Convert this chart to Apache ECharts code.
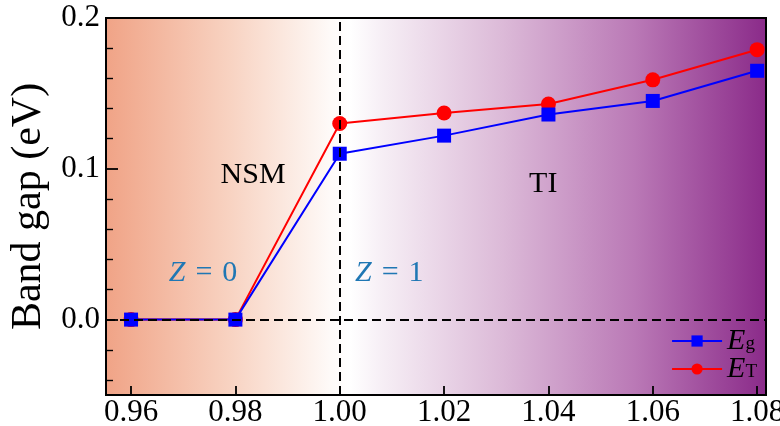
<!DOCTYPE html>
<html>
<head>
<meta charset="utf-8">
<script src="https://cdn.jsdelivr.net/npm/echarts@6/dist/echarts.min.js"></script>
<style>
  html, body { margin: 0; padding: 0; background: #fff; }
  #chart { width: 780px; height: 426px; }
</style>
</head>
<body>
<div id="chart"></div>
<script>
var chartDom = document.getElementById('chart');
var myChart = echarts.init(chartDom);

// data
var xValues = [0.96, 0.98, 1.00, 1.02, 1.04, 1.06, 1.08];
var egValues = [0, 0, 0.110, 0.122, 0.136, 0.145, 0.165];
var etValues = [0, 0, 0.130, 0.137, 0.143, 0.159, 0.179];
var xTicks = [0.96, 0.98, 1.00, 1.02, 1.04, 1.06, 1.08];
var yTicks = [0, 0.1, 0.2];
var yMinorTicks = [-0.04, -0.02, 0.02, 0.04, 0.06, 0.08, 0.12, 0.14, 0.16, 0.18];

var serif = 'Liberation Serif';
var xMin = 0.9552, xMax = 1.0817;
var yMin = -0.05, yMax = 0.2;

function pairs(ys) {
  return xValues.map(function (x, i) { return [x, ys[i]]; });
}

var axisLine = { show: true, onZero: false, lineStyle: { color: '#000', width: 2 } };

var option = {
  animation: false,
  textStyle: { fontFamily: serif },
  grid: {
    left: 106, right: 14, top: 18, bottom: 31,
    outerBoundsMode: 'none',
    containLabel: false,
    show: true,
    borderColor: '#000',
    borderWidth: 2,
    backgroundColor: {
      type: 'linear', x: 0, y: 0, x2: 1, y2: 0,
      colorStops: [
        { offset: 0, color: '#f0a386' },
        { offset: 0.19, color: '#f8d3c2' },
        { offset: 0.34, color: '#fefaf8' },
        { offset: 0.37, color: '#ffffff' },
        { offset: 0.42, color: '#f6eef5' },
        { offset: 0.6, color: '#dcbad8' },
        { offset: 0.8, color: '#ba79b6' },
        { offset: 1, color: '#8a2a89' }
      ]
    }
  },
  legend: {
    orient: 'vertical',
    right: 18,
    top: 320,
    itemWidth: 50,
    itemHeight: 14,
    itemGap: -3,
    textStyle: {
      fontFamily: serif,
      rich: {
        i: { fontFamily: serif, fontStyle: 'italic', fontSize: 30, lineHeight: 26, color: '#000' },
        s: { fontFamily: serif, fontSize: 19, lineHeight: 20, color: '#000', verticalAlign: 'bottom', padding: [10, 0, 0, 0] }
      }
    },
    formatter: function (name) {
      return name === 'Eg' ? '{i|E}{s|g}' : '{i|E}{s|T}';
    },
    data: ['Eg', 'ET']
  },
  xAxis: [{
    type: 'value',
    min: xMin,
    max: xMax,
    axisLine: axisLine,
    splitLine: { show: false },
    axisTick: { show: true, inside: true, length: 9, customValues: xTicks, lineStyle: { color: '#000', width: 1.8 } },
    axisLabel: {
      customValues: xTicks,
      fontFamily: serif, fontSize: 31, color: '#000', margin: 2,
      formatter: function (v) { return v.toFixed(2); }
    }
  }],
  yAxis: [{
    type: 'value',
    min: yMin,
    max: yMax,
    name: 'Band gap (eV)',
    nameLocation: 'middle',
    nameGap: 55,
    nameTextStyle: { fontFamily: serif, fontSize: 42, color: '#000' },
    axisLine: axisLine,
    splitLine: { show: false },
    axisTick: { show: true, inside: true, length: 12, customValues: yTicks, lineStyle: { color: '#000', width: 1.8 } },
    axisLabel: {
      customValues: yTicks,
      fontFamily: serif, fontSize: 31, color: '#000', margin: 6,
      formatter: function (v) { return v.toFixed(1); }
    }
  }, {
    type: 'value',
    position: 'left',
    offset: 0,
    min: yMin,
    max: yMax,
    axisLine: axisLine,
    splitLine: { show: false },
    axisLabel: { show: false },
    axisTick: { show: true, inside: true, length: 7, customValues: yMinorTicks, lineStyle: { color: '#000', width: 1.4 } }
  }],
  series: [{
    name: 'Eg',
    type: 'line',
    data: pairs(egValues),
    symbol: 'rect',
    symbolSize: 14,
    color: '#0000ff',
    lineStyle: { width: 2, color: '#0000ff' },
    z: 3,
    markLine: {
      silent: true,
      symbol: 'none',
      label: { show: false },
      lineStyle: { color: '#000', type: [9, 5], width: 2 },
      data: [
        { yAxis: 0 },
        { xAxis: 1.00 }
      ]
    }
  }, {
    name: 'ET',
    type: 'line',
    data: pairs(etValues),
    symbol: 'circle',
    symbolSize: 15,
    color: '#ff0000',
    lineStyle: { width: 2, color: '#ff0000' },
    z: 2,
    markPoint: {
      silent: true,
      symbol: 'circle',
      symbolSize: 1,
      itemStyle: { color: 'rgba(0,0,0,0)' },
      label: {
        show: true,
        position: 'inside',
        fontFamily: serif,
        fontSize: 30,
        color: '#000',
        rich: {
          zi: { fontFamily: serif, fontStyle: 'italic', fontSize: 30, color: '#1f77b4' },
          zt: { fontFamily: serif, fontSize: 30, color: '#1f77b4' }
        },
        formatter: function (p) { return p.name; }
      },
      data: [
        { name: 'NSM', coord: [0.9834, 0.096] },
        { name: 'TI', coord: [1.0390, 0.090] },
        { name: '{zi|Z}{zt|\u2004=\u20040}', coord: [0.9738, 0.031] },
        { name: '{zi|Z}{zt|\u2004=\u20041}', coord: [1.0095, 0.031] }
      ]
    }
  }]
};

myChart.setOption(option);
window.addEventListener('resize', function () { myChart.resize(); });
</script>
</body>
</html>
